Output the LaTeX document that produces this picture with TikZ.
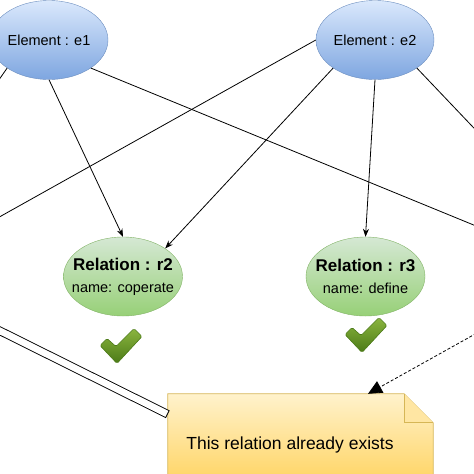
\documentclass[tikz,border=0pt]{standalone}
\usepackage{fontspec}
\setmainfont{Liberation Sans}
\usepackage{xcolor}
\usepackage{tikz}
\usetikzlibrary{shapes.geometric,arrows.meta,calc}
\definecolor{elemfill}{HTML}{DAE8FC}
\definecolor{elemdark}{HTML}{7EA6E0}
\definecolor{elemline}{HTML}{6C8EBF}
\definecolor{relfill}{HTML}{D5E8D4}
\definecolor{reldark}{HTML}{97D077}
\definecolor{relline}{HTML}{82B366}
\definecolor{notefill}{HTML}{FFF2CC}
\definecolor{notedark}{HTML}{FFB800}
\definecolor{noteline}{HTML}{D6B656}
\definecolor{okgreen}{HTML}{8BB53F}
\definecolor{okdark}{HTML}{4B7A17}

\begin{document}
\begin{tikzpicture}[
            x=1pt, y=-1pt,
            every node/.style={font=\fontsize{14.5}{17}\selectfont},
            elem/.style={ellipse, draw=elemline, top color=elemfill, bottom color=elemdark, minimum width=118pt, minimum height=79pt, inner sep=0pt},
            rel/.style={ellipse, draw=relline, top color=relfill, bottom color=reldark, minimum width=119pt, minimum height=79pt, inner xsep=-10pt, inner ysep=0pt, align=center},
            link/.style={-{Stealth[length=8pt,width=6pt]}, line width=0.8pt},
            plain/.style={line width=0.8pt},
            okmark/.pic={
                \path[rounded corners=1.5pt, draw=okdark, top color=okgreen, bottom color=okdark, line width=0.6pt]
                    (-21,-0.5) -- (-14,-7.5) -- (-5,0.5) -- (13,-17.5) -- (21,-9.5) -- (-4,17.5) -- cycle;
            },
        ]
            \useasboundingbox (0,0) rectangle (474,474);
            \clip (0,0) rectangle (474,474);

            % off-picture ends
            \coordinate (outA) at (520,244);
            \coordinate (outB) at (-40,239);
            \coordinate (outC) at (510,166);
            \coordinate (outD) at (-20,107);
            \coordinate (bandin) at (-40,311);
            \coordinate (dashin) at (520,309);

            \node[elem] (e1) at (49,40) {Element : e1};
            \node[elem] (e2) at (375,40) {Element : e2};
            \node[rel] (r2) at (123,276.5) {{\bfseries\fontsize{17}{21}\selectfont Relation : r2}\\[5pt]name: coperate};
            \node[rel] (r3) at (365.5,276.5) {{\bfseries\fontsize{17}{21}\selectfont Relation : r3}\\[5pt]name: define};

            \pic at (121,346) {okmark};
            \pic at (366,335) {okmark};

            % note
            \node[minimum width=265pt, minimum height=172pt, inner sep=0pt] (note) at (300.5,480) {};
            \path[draw=noteline, top color=notefill, bottom color=notedark, line width=0.8pt]
                (note.north west) -- ($(note.north east)+(-29,0)$) -- ($(note.north east)+(0,29)$)
                -- (note.south east) -- (note.south west) -- cycle;
            \draw[noteline, fill=notefill!80!notedark, line width=0.8pt]
                ($(note.north east)+(-29,0)$) -- ($(note.north east)+(-29,29)$) -- ($(note.north east)+(0,29)$);
            \node[font=\fontsize{17.5}{20}\selectfont] (msg) at (290,445) {This relation already exists};

            \draw[link] (e1.south) -- (r2.north);
            \draw[link] (e2.south west) -- (r2.north east);
            \draw[link] (e2.south) -- (r3.north);
            \draw[plain] (e1.south east) -- (outA);
            \draw[plain] (e1.south west) -- (outD);
            \draw[plain] (e2.west) -- (outB);
            \draw[plain] (e2.south east) -- (outC);

            \draw[line width=8.5pt] (bandin) -- (note);
            \draw[white, line width=6.7pt, shorten >=1pt] (bandin) -- (note);
            \draw[line width=0.8pt, dash pattern=on 3pt off 2pt, -{Triangle[length=14pt,width=13pt]}]
                (dashin) -- ($(note.north)+(67.5,0)$);
        \end{tikzpicture}
\end{document}
